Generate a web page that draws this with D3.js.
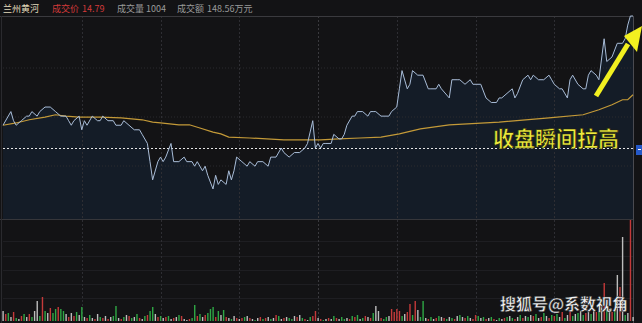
<!DOCTYPE html>
<html>
<head>
<meta charset="utf-8">
<script src="https://cdn.jsdelivr.net/npm/d3@7"></script>
<style>
  html, body { margin: 0; padding: 0; background: #131315; }
  svg { display: block; }
</style>
</head>
<body>
<div id="chart"></div>
<script>
var WIDTH = 642;
var HEIGHT = 323;

var stockName = "兰州黄河";
var lastPrice = "14.79";
var lastVolume = "1004";
var turnover = "148.56万元";
var annotation = "收盘瞬间拉高";
var watermark = "搜狐号@系数视角";

var preClose = 14.50;
var priceSpan = 0.29;

// minute of session (0..240) and price
var priceMin = [0, 3, 4, 5, 7, 9, 10, 11, 13, 14, 16, 18, 20, 22, 24, 25, 26, 27, 29, 30,
  31, 32, 34, 36, 37, 38, 40, 42, 43, 45, 46, 48, 50, 52, 53, 55, 56, 57, 59, 60,
  61, 62, 64, 65, 67, 69, 70, 72, 73, 74, 76, 77, 78, 80, 81, 82, 83, 85, 86, 87,
  88, 89, 91, 93, 94, 96, 97, 99, 101, 102, 104, 106, 107, 109, 111, 113, 115, 116, 118, 119,
  120, 121, 122, 123, 125, 126, 128, 129, 130, 131, 133, 134, 135, 137, 139, 140, 141, 142, 144, 147,
  148, 150, 151, 152, 154, 155, 156, 158, 160, 162, 163, 165, 166, 167, 170, 171, 173, 174, 176, 178,
  179, 182, 184, 186, 188, 189, 190, 192, 194, 195, 196, 198, 200, 201, 202, 204, 206, 208, 209, 210,
  212, 213, 215, 216, 217, 219, 221, 222, 223, 224, 226, 227, 229, 230, 232, 234, 236, 237, 238, 239, 240];
var priceVal = [14.55, 14.58, 14.56, 14.55, 14.56, 14.57, 14.57, 14.58, 14.57, 14.58, 14.59, 14.59, 14.58, 14.57, 14.57, 14.56, 14.55, 14.56, 14.57, 14.54,
  14.56, 14.55, 14.57, 14.56, 14.56, 14.57, 14.56, 14.56, 14.55, 14.55, 14.56, 14.55, 14.54, 14.54, 14.53, 14.51, 14.47, 14.43, 14.47, 14.48,
  14.47, 14.48, 14.51, 14.47, 14.47, 14.48, 14.47, 14.47, 14.46, 14.47, 14.45, 14.46, 14.44, 14.41, 14.44, 14.42, 14.43, 14.42, 14.45, 14.43,
  14.45, 14.48, 14.47, 14.46, 14.47, 14.46, 14.47, 14.47, 14.46, 14.48, 14.48, 14.50, 14.49, 14.48, 14.49, 14.49, 14.50, 14.51, 14.56, 14.50,
  14.51, 14.50, 14.51, 14.51, 14.51, 14.53, 14.52, 14.52, 14.53, 14.55, 14.57, 14.57, 14.58, 14.58, 14.57, 14.58, 14.58, 14.58, 14.57, 14.57,
  14.58, 14.59, 14.63, 14.67, 14.63, 14.64, 14.67, 14.66, 14.66, 14.63, 14.63, 14.63, 14.64, 14.63, 14.61, 14.65, 14.65, 14.65, 14.64, 14.65,
  14.64, 14.64, 14.61, 14.60, 14.60, 14.61, 14.61, 14.62, 14.63, 14.61, 14.62, 14.65, 14.66, 14.65, 14.66, 14.65, 14.65, 14.66, 14.65, 14.64,
  14.63, 14.63, 14.61, 14.65, 14.66, 14.64, 14.63, 14.63, 14.66, 14.67, 14.66, 14.65, 14.74, 14.69, 14.70, 14.73, 14.73, 14.74, 14.77, 14.79, 14.79];

// average price line
var avgMin = [0, 5, 10, 16, 20, 24, 29, 37, 45, 53, 57, 60, 67, 71, 75, 80, 83, 86, 94, 107,
  113, 121, 128, 136, 144, 151, 159, 170, 189, 208, 221, 227, 232, 236, 238, 240];
var avgVal = [14.550, 14.555, 14.562, 14.568, 14.573, 14.570, 14.568, 14.568, 14.566, 14.562, 14.557, 14.555, 14.551, 14.551, 14.544, 14.535, 14.531, 14.524, 14.522, 14.518,
  14.518, 14.518, 14.520, 14.522, 14.524, 14.531, 14.542, 14.551, 14.557, 14.566, 14.573, 14.584, 14.595, 14.606, 14.606, 14.617];

// per-minute volume (hands), 241 minutes
var volumes = [
  40, 28, 32, 16, 36, 12, 8, 20, 28, 16,
  28, 16, 40, 80, 20, 96, 40, 32, 52, 32,
  48, 56, 48, 40, 28, 16, 32, 20, 36, 24,
  56, 16, 12, 24, 12, 8, 28, 16, 12, 20,
  8, 16, 20, 60, 12, 8, 16, 24, 20, 12,
  16, 28, 12, 8, 20, 24, 40, 56, 28, 16,
  20, 12, 16, 20, 8, 12, 16, 24, 20, 8,
  4, 8, 12, 64, 20, 28, 16, 24, 32, 48,
  56, 16, 40, 24, 44, 16, 12, 8, 20, 12,
  8, 12, 16, 20, 12, 8, 4, 12, 16, 8,
  12, 16, 8, 12, 24, 20, 8, 12, 16, 12,
  8, 20, 16, 24, 12, 8, 4, 16, 20, 40,
  12, 8, 4, 8, 12, 8, 20, 12, 8, 16,
  8, 12, 8, 20, 16, 24, 8, 12, 20, 16,
  12, 32, 60, 40, 12, 8, 16, 20, 48, 36,
  48, 40, 20, 28, 36, 68, 24, 80, 44, 16,
  80, 12, 8, 16, 8, 12, 20, 16, 12, 8,
  16, 12, 8, 20, 24, 16, 12, 20, 12, 8,
  24, 20, 12, 16, 8, 12, 16, 8, 4, 12,
  8, 12, 16, 20, 12, 8, 16, 24, 12, 20,
  16, 24, 20, 28, 12, 16, 32, 20, 12, 24,
  20, 28, 16, 36, 12, 24, 40, 20, 28, 32,
  40, 24, 32, 36, 28, 48, 36, 40, 60, 152,
  68, 48, 36, 44, 184, 136, 336, 24, 32, 404,
  16];
// r = up, g = down, w = flat
var volumeSide =
  "wrgwrgwrgw" + "rgwwgrgwrg" + "grggwrwrgw" + "gwrgwrwgrw" + "rwggwrgwrg" +
  "wgrwgrggwr" + "gwrgwrwgrw" + "wrggrgwrgg" + "grgwgrwgwr" + "wrgwrwgwrg" +
  "rwgwrgwrwg" + "gwrwgrwgrr" + "wrgwrwgrwg" + "gwrgrgwgrw" + "rgwwrggwrr" +
  "rrgwrrgrwg" + "gwrgwrgwrg" + "wgrwgwrgwr" + "rgwgrwgrwg" + "wrgwgrwgrw" +
  "gwrgwrgwrg" + "rgwrgwrgwg" + "wgrwgwrgwr" + "gwrgwrwgwr" + "w";

var SIDE_COLORS = { r: "#c43a3a", g: "#2fa845", w: "#bdbdbd" };

var PLOT_LEFT = 3;
var PLOT_RIGHT = 633;
var PLOT_TOP = 16;
var PRICE_BOTTOM = 219;
var VOL_TOP = 220;
var VOL_BOTTOM = 321;

var svg = d3.select("#chart").append("svg")
  .attr("width", WIDTH)
  .attr("height", HEIGHT);

svg.append("rect")
  .attr("width", WIDTH)
  .attr("height", HEIGHT)
  .attr("fill", "#131315");

var x = d3.scaleLinear().domain([0, 240]).range([PLOT_LEFT, PLOT_RIGHT]);
var y = d3.scaleLinear()
  .domain([preClose - priceSpan, preClose + priceSpan])
  .range([280, PLOT_TOP]);
var yVol = d3.scaleLinear().domain([0, d3.max(volumes)]).range([VOL_BOTTOM, VOL_TOP]);

var pricePts = priceMin.map(function(m, i) { return [m, priceVal[i]]; });
var avgPts = avgMin.map(function(m, i) { return [m, avgVal[i]]; });

// area under the price line
svg.append("path")
  .datum(pricePts)
  .attr("fill", "#141c27")
  .attr("d", d3.area()
    .x(function(d) { return x(d[0]); })
    .y0(PRICE_BOTTOM)
    .y1(function(d) { return y(d[1]); }));

// grid
var grid = svg.append("g");
[68, 117, 166].forEach(function(gy) {
  grid.append("line")
    .attr("x1", PLOT_LEFT).attr("x2", PLOT_RIGHT)
    .attr("y1", gy).attr("y2", gy)
    .attr("stroke", "#2a2a2e").attr("stroke-width", 1)
    .attr("stroke-dasharray", "1,2");
});
[241, 256, 270, 284, 298].forEach(function(gy) {
  grid.append("line")
    .attr("x1", PLOT_LEFT).attr("x2", PLOT_RIGHT)
    .attr("y1", gy + 0.5).attr("y2", gy + 0.5)
    .attr("stroke", "#1e1e22").attr("stroke-width", 1);
});
d3.range(30, 240, 30).forEach(function(m) {
  grid.append("line")
    .attr("x1", Math.round(x(m)) + 0.5).attr("x2", Math.round(x(m)) + 0.5)
    .attr("y1", PLOT_TOP).attr("y2", VOL_BOTTOM)
    .attr("stroke", m === 120 ? "#3a3a3e" : "#2e2e33")
    .attr("stroke-dasharray", "2,2");
});
// frame lines
svg.append("line")
  .attr("x1", 0).attr("x2", PLOT_RIGHT)
  .attr("y1", PLOT_TOP + 0.5).attr("y2", PLOT_TOP + 0.5)
  .attr("stroke", "#3a3a3e");
svg.append("line")
  .attr("x1", 0).attr("x2", PLOT_RIGHT)
  .attr("y1", PRICE_BOTTOM + 0.5).attr("y2", PRICE_BOTTOM + 0.5)
  .attr("stroke", "#36363a");
svg.append("line")
  .attr("x1", PLOT_RIGHT + 0.5).attr("x2", PLOT_RIGHT + 0.5)
  .attr("y1", PLOT_TOP).attr("y2", HEIGHT)
  .attr("stroke", "#4a4a50");
svg.append("line")
  .attr("x1", 1.5).attr("x2", 1.5)
  .attr("y1", PLOT_TOP).attr("y2", HEIGHT)
  .attr("stroke", "#2a2a2e");

// previous close, dotted
svg.append("line")
  .attr("x1", PLOT_LEFT).attr("x2", PLOT_RIGHT)
  .attr("y1", Math.round(y(preClose)) + 0.5).attr("y2", Math.round(y(preClose)) + 0.5)
  .attr("stroke", "#e6e6e6").attr("stroke-width", 1.2)
  .attr("stroke-dasharray", "2,2");

// volume bars
svg.append("g").selectAll("rect")
  .data(volumes)
  .enter()
  .append("rect")
  .attr("x", function(d, i) { return x(i) - 0.6; })
  .attr("y", function(d) { return yVol(d); })
  .attr("width", 1.4)
  .attr("height", function(d) { return VOL_BOTTOM - yVol(d); })
  .attr("fill", function(d, i) { return SIDE_COLORS[volumeSide[i]]; });

// average price line
svg.append("path")
  .datum(avgPts)
  .attr("fill", "none")
  .attr("stroke", "#c49a38")
  .attr("stroke-width", 1.2)
  .attr("d", d3.line()
    .x(function(d) { return x(d[0]); })
    .y(function(d) { return y(d[1]); }));

// price line
svg.append("path")
  .datum(pricePts)
  .attr("fill", "none")
  .attr("stroke", "#a9bdd8")
  .attr("stroke-width", 1)
  .attr("d", d3.line()
    .x(function(d) { return x(d[0]); })
    .y(function(d) { return y(d[1]); }));

// blue marker at the right edge
svg.append("rect")
  .attr("x", 636).attr("y", Math.round(y(preClose)) - 3)
  .attr("width", 6).attr("height", 10)
  .attr("fill", "#2458c8");
svg.append("rect")
  .attr("x", 638).attr("y", Math.round(y(preClose)) + 1)
  .attr("width", 3).attr("height", 1)
  .attr("fill", "#ffffff");

// header
var header = svg.append("text")
  .attr("x", 3).attr("y", 12)
  .style("font-family", "'Noto Sans CJK SC', sans-serif")
  .style("font-size", "9px");
header.append("tspan").attr("fill", "#e4dcbc").text(stockName);
header.append("tspan").attr("x", 52).attr("fill", "#d23a3a").text("成交价");
header.append("tspan").attr("x", 82).attr("fill", "#d23a3a").text(lastPrice);
header.append("tspan").attr("x", 117).attr("fill", "#9a9a9a").text("成交量");
header.append("tspan").attr("x", 146).attr("fill", "#9a9a9a").text(lastVolume);
header.append("tspan").attr("x", 177).attr("fill", "#9a9a9a").text("成交额");
header.append("tspan").attr("x", 207).attr("fill", "#9a9a9a").text(turnover);

// annotation text
svg.append("text")
  .attr("x", 493).attr("y", 146)
  .attr("fill", "#ecea3c")
  .attr("stroke", "#20200a").attr("stroke-width", 0.6)
  .style("font-family", "'Noto Sans CJK SC', sans-serif")
  .style("font-weight", "bold")
  .style("font-size", "21px")
  .text(annotation);

// arrow
svg.append("line")
  .attr("x1", 596).attr("y1", 96)
  .attr("x2", 628).attr("y2", 44)
  .attr("stroke", "#f2f020").attr("stroke-width", 5);
svg.append("path")
  .attr("d", "M642,26 L624,36 L637,52 Z")
  .attr("fill", "#f2f020");

// watermark
svg.append("text")
  .attr("x", 500).attr("y", 310)
  .attr("fill", "#f4f4f4")
  .attr("stroke", "#303030").attr("stroke-width", 0.5)
  .style("font-family", "'Noto Sans CJK SC', sans-serif")
  .style("font-weight", "bold")
  .style("font-size", "16px")
  .text(watermark);
</script>
</body>
</html>
